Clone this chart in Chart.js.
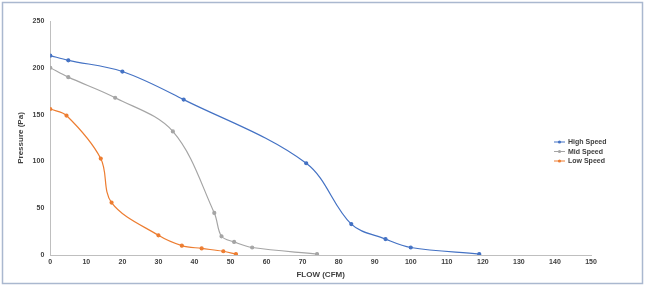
<!DOCTYPE html>
<html>
<head>
<meta charset="utf-8">
<script src="https://cdn.jsdelivr.net/npm/chart.js@4"></script>
<style>
  html, body { margin: 0; padding: 0; background: #fff; }
  #wrap { position: relative; width: 650px; height: 288px; }
</style>
</head>
<body>
<div id="wrap"><canvas id="fanChart" width="650" height="288"></canvas></div>
<script>
// fan curves (flow in CFM, pressure in Pa)
const highFlow = [0, 5, 20, 37, 71, 83.5, 93, 100, 119];
const highPressure = [213, 208, 196, 166, 98, 33, 17, 8, 1];

const midFlow = [0, 5, 18, 34, 45.5, 47.5, 51, 56, 74];
const midPressure = [200, 190, 168, 132, 45, 20, 14, 8, 1];

const lowFlow = [0, 4.5, 14, 17, 30, 36.5, 42, 48, 51.5];
const lowPressure = [156, 149, 103, 56, 21, 10, 7, 4, 1];

const seriesNames = ['High Speed', 'Mid Speed', 'Low Speed'];
const seriesColors = ['#4472c4', '#a5a5a5', '#ed7d31'];

const xTicks = [0, 10, 20, 30, 40, 50, 60, 70, 80, 90, 100, 110, 120, 130, 140, 150];
const yTicks = [0, 50, 100, 150, 200, 250];

function toPoints(xs, ys) {
  return xs.map((x, i) => ({ x: x, y: ys[i] }));
}

const tickFont = { family: 'Liberation Sans, Arial, sans-serif', size: 7, weight: 'bold' };

// legend drawn by hand so it can sit over the right edge of the plot like the original
const sideLegend = {
  id: 'sideLegend',
  afterDraw(chart) {
    const c = chart.ctx;
    c.save();
    c.font = 'bold 7px Liberation Sans, Arial, sans-serif';
    c.textBaseline = 'middle';
    chart.data.datasets.forEach((ds, i) => {
      const y = 142 + i * 9.5;
      c.strokeStyle = ds.borderColor;
      c.lineWidth = 1;
      c.beginPath();
      c.moveTo(554, y);
      c.lineTo(565, y);
      c.stroke();
      c.fillStyle = ds.borderColor;
      c.beginPath();
      c.arc(559.5, y, 1.6, 0, Math.PI * 2);
      c.fill();
      c.fillStyle = '#404040';
      c.fillText(ds.label, 568, y + 0.5);
    });
    c.restore();
  }
};

const frame = {
  id: 'frame',
  beforeDraw(chart) {
    const c = chart.ctx;
    c.save();
    c.fillStyle = '#ffffff';
    c.fillRect(0, 0, chart.width, chart.height);
    c.strokeStyle = '#aab8cf';
    c.lineWidth = 1.5;
    c.strokeRect(2.5, 2.5, 640, 281);
    c.restore();
  }
};

const ctx = document.getElementById('fanChart');

new Chart(ctx, {
  type: 'line',
  data: {
    datasets: [
      { label: seriesNames[0], data: toPoints(highFlow, highPressure) },
      { label: seriesNames[1], data: toPoints(midFlow, midPressure) },
      { label: seriesNames[2], data: toPoints(lowFlow, lowPressure) }
    ].map((ds, i) => Object.assign(ds, {
      borderColor: seriesColors[i],
      backgroundColor: seriesColors[i],
      borderWidth: 1.2,
      pointRadius: 1.5,
      pointHoverRadius: 2,
      tension: 0.35,
      fill: false
    }))
  },
  options: {
    responsive: false,
    animation: false,
    layout: { padding: { left: 16, right: 59, top: 21, bottom: 8 } },
    scales: {
      x: {
        type: 'linear',
        min: 0,
        max: 150,
        afterBuildTicks: axis => { axis.ticks = xTicks.map(v => ({ value: v })); },
        grid: { display: false, drawTicks: false },
        border: { display: true, color: '#bfbfbf', width: 1 },
        ticks: { color: '#404040', font: tickFont, padding: 3, maxRotation: 0 },
        title: {
          display: true,
          text: 'FLOW (CFM)',
          color: '#404040',
          font: { family: 'Liberation Sans, Arial, sans-serif', size: 8, weight: 'bold' },
          padding: { top: 1, bottom: 0 }
        }
      },
      y: {
        type: 'linear',
        min: 0,
        max: 250,
        afterBuildTicks: axis => { axis.ticks = yTicks.map(v => ({ value: v })); },
        grid: { display: false, drawTicks: false },
        border: { display: true, color: '#bfbfbf', width: 1 },
        ticks: { color: '#404040', font: tickFont, padding: 6 },
        title: {
          display: true,
          text: 'Pressure (Pa)',
          color: '#404040',
          font: { family: 'Liberation Sans, Arial, sans-serif', size: 8, weight: 'bold' },
          padding: { top: 0, bottom: 1 }
        }
      }
    },
    plugins: {
      legend: { display: false },
      tooltip: { enabled: false }
    }
  },
  plugins: [frame, sideLegend]
});
</script>
</body>
</html>
